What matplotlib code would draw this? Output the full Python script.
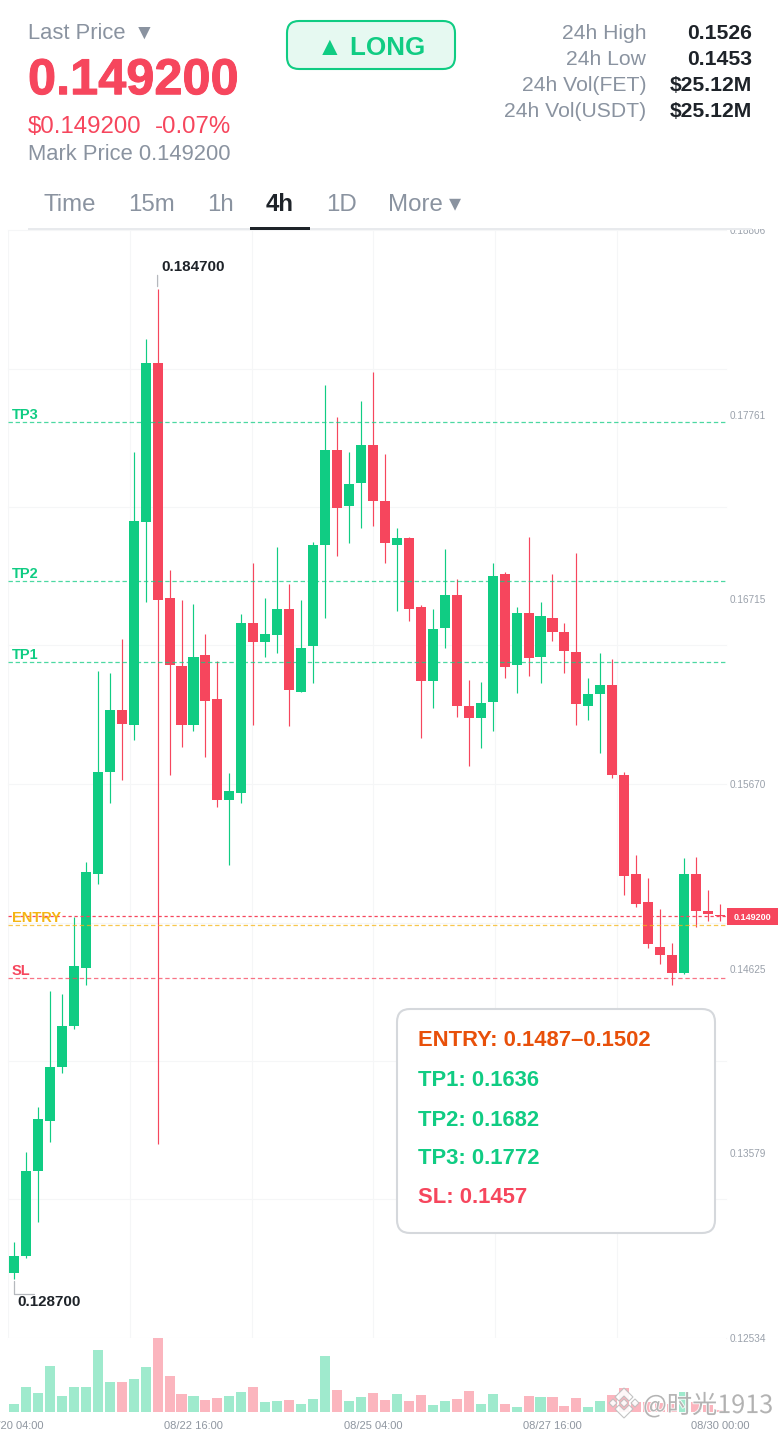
import numpy as np
import matplotlib
matplotlib.use('Agg')
import matplotlib.pyplot as plt
import matplotlib.patheffects as pe
from matplotlib.patches import FancyBboxPatch, Rectangle, Polygon
from matplotlib.transforms import Bbox

W, H = 780, 1430

plt.rcParams['font.family'] = ['Liberation Sans', 'DejaVu Sans']

# 4h candles, FET/USDT
opens = [.12902,.12998,.13479,.13762,.14068,.14300,.14628,.15160,.15737,.16088,
         .16004,.17153,.18053,.16723,.16338,.16004,.16400,.16151,.15579,.15619,
         .16582,.16474,.16514,.16661,.16191,.16451,.17023,.17561,.17244,.17374,
         .17589,.17272,.17023,.17062,.16672,.16253,.16553,.16740,.16111,.16043,
         .16134,.16859,.16344,.16638,.16389,.16610,.16531,.16417,.16111,.16179,
         .16230,.15720,.15160,.15002,.14747,.14702,.14600,.15160,.14951,.14928]
closes = [.12998,.13479,.13773,.14068,.14300,.14639,.15171,.15737,.16088,.16009,
          .17159,.18053,.16712,.16344,.16004,.16389,.16140,.15579,.15630,.16582,
          .16474,.16519,.16661,.16202,.16440,.17023,.17561,.17232,.17368,.17589,
          .17272,.17034,.17062,.16661,.16253,.16548,.16740,.16111,.16043,.16128,
          .16848,.16332,.16638,.16383,.16621,.16531,.16423,.16123,.16179,.16230,
          .15720,.15149,.14990,.14764,.14702,.14600,.15160,.14951,.14934,.14920]
highs = [.13077,.13587,.13841,.14498,.14481,.14917,.15228,.16309,.16298,.16491,
         .17550,.18189,.18470,.16882,.16712,.16689,.16519,.16366,.15732,.16632,
         .16921,.16723,.17012,.16802,.16712,.17040,.17929,.17747,.17550,.17838,
         .18002,.17538,.17119,.17068,.16683,.16661,.17000,.16831,.16258,.16247,
         .16921,.16870,.16672,.17068,.16701,.16859,.16582,.16978,.16270,.16411,
         .16377,.15737,.15268,.15137,.14962,.14770,.15251,.15257,.15070,.14990]
lows = [.12870,.12987,.13190,.13643,.14034,.14283,.14532,.15104,.15562,.15692,
        .15919,.16701,.13632,.15720,.15881,.15970,.15824,.15539,.15211,.15562,
        .16004,.16389,.16411,.15998,.16191,.16241,.16610,.16960,.17034,.17119,
        .17130,.16921,.16649,.16593,.15930,.16100,.16440,.16049,.15771,.15874,
        .15970,.16270,.16185,.16281,.16241,.16480,.16298,.16004,.16032,.15845,
        .15703,.15041,.14974,.14741,.14651,.14532,.14594,.14860,.14894,.14894]
volumes = [8,25,19,46,16,25,25,62,30,30,33,45,74,36,18,16,12,14,16,20,
           25,10,11,12,8,13,56,22,11,15,19,12,18,11,17,7,11,13,21,8,
           18,8,5,16,15,15,6,14,5,11,17,24,10,10,9,8,20,10,7,2]

price_ticks = [0.18806, 0.17761, 0.16715, 0.15670, 0.14625, 0.13579, 0.12534]
time_ticks = [0, 15, 30, 45, 59]
time_labels = ['08/20 04:00', '08/22 16:00', '08/25 04:00', '08/27 16:00', '08/30 00:00']
grid_x = [-0.5, 9.7, 19.9, 30.0, 40.2, 50.4]

last_price = 0.1492
levels = [('TP3', 0.1772, '#10cc83'), ('TP2', 0.1682, '#10cc83'), ('TP1', 0.1636, '#10cc83'),
          ('ENTRY', 0.1487, '#f5b514'), ('SL', 0.1457, '#f6465d')]

stat_names = ['24h High', '24h Low', '24h Vol(FET)', '24h Vol(USDT)']
stat_values = ['0.1526', '0.1453', '$25.12M', '$25.12M']
tabs = ['Time', '15m', '1h', '4h', '1D', 'More']

GREEN = '#10cc83'
RED = '#f6465d'
GREY = '#8a93a0'
DARK = '#1e2329'
GRID = '#f5f6f7'

fig = plt.figure(figsize=(W / 100, H / 100), dpi=100, facecolor='white')


def px_axes(x0, y0, x1, y1):
    return fig.add_axes([x0 / W, 1 - y1 / H, (x1 - x0) / W, (y1 - y0) / H])


# y is the middle of the capitals, in pixels from the top
def label(x, y, s, px, color=GREY, weight='normal', ha='left', **kw):
    return fig.text(x / W, 1 - (y + 0.36 * px) / H, s, fontsize=px * 0.72, color=color, weight=weight,
                    ha=ha, va='baseline', **kw)


ax = px_axes(8, 230, 726, 1338)
vax = px_axes(8, 1338, 726, 1412)

x = np.arange(len(opens))
o, c, hi, lo = map(np.array, (opens, closes, highs, lows))
colors = [GREEN if b >= a else RED for a, b in zip(opens, closes)]

ax.set_xlim(-0.5, 59.5)
ax.set_ylim(price_ticks[-1], price_ticks[0])
ax.vlines(x, lo, hi, colors=colors, linewidth=0.85, zorder=2)
ax.bar(x, np.abs(c - o), bottom=np.minimum(o, c), width=0.84, color=colors, linewidth=0, zorder=3)

for g in np.linspace(price_ticks[-1], price_ticks[0], 9):
    ax.axhline(g, color=GRID, linewidth=0.75, zorder=1, clip_on=False)
for g in grid_x:
    ax.axvline(g, color=GRID, linewidth=0.75, zorder=1)

for name, price, col in levels:
    ax.axhline(price, color=col, linewidth=0.9, alpha=0.75, dashes=(3.5, 2.2), zorder=4)
    ax.annotate(name, xy=(-0.5, price), xytext=(4, 0), textcoords='offset pixels',
                fontsize=10.5, weight='bold', color=col, va='bottom', ha='left', zorder=5)
ax.axhline(last_price, color=RED, linewidth=0.9, dashes=(2.6, 2.2), zorder=4)

for s in ax.spines.values():
    s.set_visible(False)
ax.set_xticks([])
ax.yaxis.tick_right()
ax.set_yticks(price_ticks)
ax.set_yticklabels(['%.5f' % p for p in price_ticks])
ax.tick_params(axis='y', length=0, pad=2.5, labelsize=7.2, labelcolor='#9aa1ab')
for t in ax.yaxis.get_major_ticks():
    t.label2.set_clip_on(True)
    t.label2.set_clip_box(Bbox([[0, 0], [W, H - 229]]))

# high / low markers
i_hi = int(np.argmax(hi))
i_lo = int(np.argmin(lo))
ax.annotate('%.6f' % hi[i_hi], xy=(i_hi, hi[i_hi]), xytext=(4, 22), textcoords='offset pixels',
            fontsize=10.9, weight='bold', color=DARK, va='center', zorder=6)
ax.annotate('', xy=(i_hi, hi[i_hi]), xytext=(0, 14), textcoords='offset pixels',
            arrowprops=dict(arrowstyle='-', color='#b5b8bd', linewidth=0.9, shrinkA=0, shrinkB=2), zorder=6)
ax.annotate('%.6f' % lo[i_lo], xy=(i_lo, lo[i_lo]), xytext=(3, -23), textcoords='offset pixels',
            fontsize=10.9, weight='bold', color=DARK, va='center', zorder=6)
ax.annotate('', xy=(i_lo, lo[i_lo]), xytext=(20, -15), textcoords='offset pixels',
            arrowprops=dict(arrowstyle='-', color='#b5b8bd', linewidth=0.9, shrinkA=0, shrinkB=2,
                            connectionstyle='angle,angleA=0,angleB=90,rad=0'), zorder=6)

# last price tag
fig.add_artist(Rectangle((727, H - 925), 51, 17, transform=None, facecolor=RED, edgecolor='none', zorder=6))
label(752.5, 917, '%.6f' % last_price, 9, color='white', weight='bold', ha='center', zorder=7)

# volume panel
vax.bar(x, volumes, width=0.84, color=colors, alpha=0.4, linewidth=0)
vax.set_xlim(-0.5, 59.5)
vax.set_ylim(0, 74)
for s in vax.spines.values():
    s.set_visible(False)
vax.set_yticks([])
vax.set_xticks(time_ticks)
vax.set_xticklabels(time_labels)
vax.tick_params(axis='x', length=0, pad=6.2, labelsize=8, labelcolor='#8f96a0')

# header
label(28, 31, 'Last Price', 22)
label(134, 31, '▼', 21)
label(28, 76, '%.6f' % last_price, 50.5, color=RED, weight='bold',
      path_effects=[pe.withStroke(linewidth=0.7, foreground=RED)])
label(28, 124, '$%.6f' % last_price, 24, color=RED)
label(155, 124, '-0.07%', 24, color=RED)
label(28, 152.5, 'Mark Price %.6f' % last_price, 22)

fig.add_artist(FancyBboxPatch((287, H - 69), 168, 48, boxstyle='round,pad=0,rounding_size=12',
                              transform=None, facecolor='#e6f9f1', edgecolor=GREEN, linewidth=1.5))
label(371, 45.5, '▲ LONG', 26, color=GREEN, weight='bold', ha='center')

for name, val, y in zip(stat_names, stat_values, [31, 57, 83, 109]):
    label(646, y, name, 21.1, ha='right')
    label(752, y, val, 21.2, color=DARK, weight='bold', ha='right')

for name, tx in zip(tabs, [44, 128, 207, 266, 326, 388]):
    active = name == '4h'
    label(tx, 202, name, 24, color=DARK if active else GREY, weight='bold' if active else 'normal')
label(449, 202, '▾', 24)
fig.add_artist(Rectangle((28, H - 230), 724, 2, transform=None, facecolor='#e8eaed', edgecolor='none'))
fig.add_artist(Rectangle((250, H - 230), 60, 3, transform=None, facecolor=DARK, edgecolor='none'))

# signal box
fig.add_artist(FancyBboxPatch((397, H - 1233), 318, 224, boxstyle='round,pad=0,rounding_size=13',
                              transform=None, facecolor='white', edgecolor='#d5d8dc', linewidth=1.5, zorder=5))
box_lines = [('ENTRY: 0.1487–0.1502', '#e8500a', 1038), ('TP1: 0.1636', GREEN, 1078),
             ('TP2: 0.1682', GREEN, 1118), ('TP3: 0.1772', GREEN, 1156), ('SL: 0.1457', RED, 1195)]
for s, col, y in box_lines:
    label(418, y, s, 22, color=col, weight='bold', zorder=6)

# watermark
label(643, 1404, '@时光1913', 25.2, color='#adadad', zorder=8, alpha=0.9,
      family=['Noto Sans CJK SC', 'DejaVu Sans'],
      path_effects=[pe.withStroke(linewidth=1.3, foreground='white')])


def logo_piece(points):
    fig.add_artist(Polygon([(624 + a, H - 1403 + b) for a, b in points], transform=None, facecolor='white',
                           edgecolor='#bdbdbd', linewidth=0.8, alpha=0.9, zorder=8))


logo_piece([(0, 15), (9, 6), (5, 2), (0, 7), (-5, 2), (-9, 6)])
logo_piece([(0, -15), (9, -6), (5, -2), (0, -7), (-5, -2), (-9, -6)])
logo_piece([(0, 4), (4, 0), (0, -4), (-4, 0)])
logo_piece([(-11, 4), (-7, 0), (-11, -4), (-15, 0)])
logo_piece([(11, 4), (15, 0), (11, -4), (7, 0)])

fig.savefig('out.png', dpi=100)
